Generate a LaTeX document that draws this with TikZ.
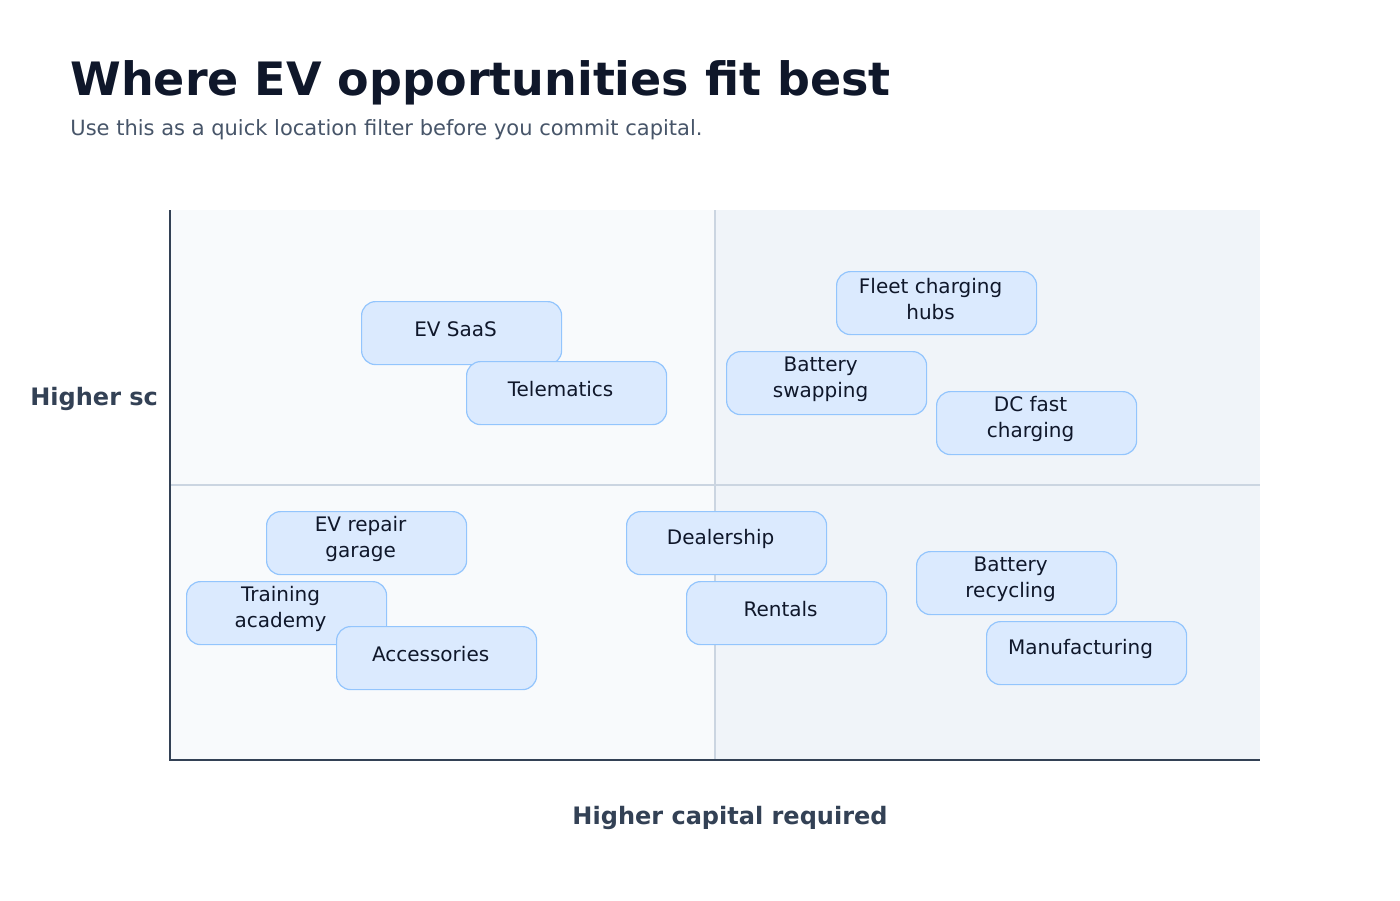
\documentclass[tikz,border=0pt]{standalone}
\usepackage{fontspec}
\setmainfont{DejaVu Sans}
\definecolor{titlec}{HTML}{0F172A}
\definecolor{subc}{HTML}{475569}
\definecolor{axisc}{HTML}{334155}
\definecolor{leftq}{HTML}{F8FAFC}
\definecolor{rightq}{HTML}{F0F4F9}
\definecolor{divc}{HTML}{CBD5E1}
\definecolor{boxf}{HTML}{DBEAFE}
\definecolor{boxd}{HTML}{93C5FD}
\begin{document}
\begin{tikzpicture}[x=0.5pt,y=-0.5pt,
  item/.style={draw=boxd,fill=boxf,rounded corners=7pt,line width=0.6pt,minimum width=100pt,minimum height=31.5pt,inner sep=0pt},
  itemtxt/.style={font=\fontsize{10}{13}\selectfont,text=titlec,align=center}]
\useasboundingbox (0,0) rectangle (1400,900);
\fill[white] (0,0) rectangle (1400,900);
\node[anchor=base west,font=\fontsize{23}{28}\selectfont\bfseries,text=titlec,inner sep=0] (title) at (70,95) {Where EV opportunities fit best};
\node[anchor=base west,font=\fontsize{10.5}{13}\selectfont,text=subc,inner sep=0] (sub) at (70,135) {Use this as a quick location filter before you commit capital.};
\fill[leftq] (170,210) rectangle (715,760);
\fill[rightq] (715,210) rectangle (1260,760);
\draw[divc,line width=1.2pt] (170,485) -- (1260,485);
\draw[divc,line width=1.2pt] (715,210) -- (715,760);
\draw[axisc,line width=1.3pt] (170,210) -- (170,760) -- (1260,760);
\node[anchor=base west,font=\fontsize{12}{14}\selectfont\bfseries,text=axisc,inner sep=0] (ylab) at (30,405) {Higher sc};
\node[anchor=base,font=\fontsize{12}{14}\selectfont\bfseries,text=axisc,inner sep=0] (xlab) at (730,824) {Higher capital required};
\foreach \x/\y/\t/\n in {361/301/EV SaaS/a,466/361/Telematics/b,836/271/{Fleet charging\\hubs}/c,726/351/{Battery\\swapping}/d,936/391/{DC fast\\charging}/e,266/511/{EV repair\\garage}/f,186/581/{Training\\academy}/g,336/626/Accessories/h,626/511/Dealership/i,686/581/Rentals/j,916/551/{Battery\\recycling}/k,986/621/Manufacturing/l}{
  \node[item,anchor=north west] (box\n) at (\x,\y) {};
  \node[itemtxt] (txt\n) at ([xshift=-3pt,yshift=2pt]box\n.center) {\t};
}
\end{tikzpicture}
\end{document}
